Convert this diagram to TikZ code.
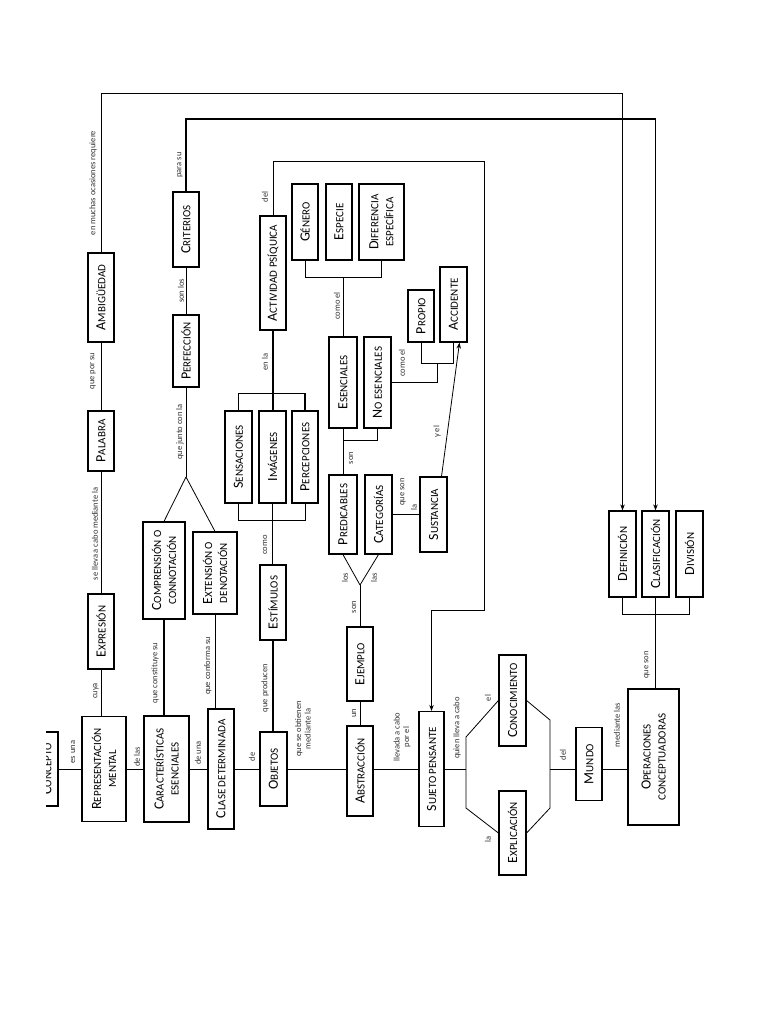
\documentclass[tikz,border=0pt]{standalone}
\usepackage{fontspec}
\setmainfont{Carlito}
\usetikzlibrary{arrows.meta,calc}
\newcommand\kk[2]{{\fontsize{14}{15}\selectfont #1}{\fontsize{11}{13}\selectfont #2}}
\newcommand\ks[1]{{\fontsize{11}{13}\selectfont #1}}
\tikzset{
  box/.style={draw, line width=1.2pt, rotate=90, inner sep=0pt, align=center, font=\fontsize{11}{15}\selectfont},
  lbl/.style={rotate=90, font=\fontsize{8.5}{9.5}\selectfont, text=black!80, inner sep=0pt, align=center},
  ln/.style={line width=0.8pt},
  thk/.style={line width=1.5pt},
  arr/.style={-{Stealth[length=6pt,width=4.5pt]}},
}
\begin{document}
\begin{tikzpicture}[x=1pt,y=-1pt]
\fill[white] (0,0) rectangle (768,1024);
\useasboundingbox (0,0) rectangle (768,1024);

\begin{scope}
\clip (46,0) rectangle (768,1024);
\node[box,minimum width=74pt,minimum height=22pt] (con) at (47,769) {\kk{C}{ONCEPTO}};
\end{scope}

% main row
\node[box,minimum width=105pt,minimum height=44pt] (rep) at (104,769) {\kk{R}{EPRESENTACIÓN}\\\ks{MENTAL}};
\node[box,minimum width=106pt,minimum height=45pt] (car) at (166.5,769) {\kk{C}{ARACTERÍSTICAS}\\\ks{ESENCIALES}};
\node[box,minimum width=120pt,minimum height=26pt] (cla) at (221,769) {\kk{C}{LASE DETERMINADA}};
\node[box,minimum width=74pt,minimum height=27pt] (obj) at (273.5,769) {\kk{O}{BJETOS}};
\node[box,minimum width=90pt,minimum height=26pt] (abs) at (360,771) {\kk{A}{BSTRACCIÓN}};
\node[box,minimum width=74pt,minimum height=26pt] (eje) at (360,664) {\kk{E}{JEMPLO}};
\node[box,minimum width=115pt,minimum height=25pt] (suj) at (431.5,769) {\kk{S}{UJETO PENSANTE}};
\node[box,minimum width=91pt,minimum height=27pt] (cono) at (512.5,700.5) {\kk{C}{ONOCIMIENTO}};
\node[box,minimum width=84pt,minimum height=27pt] (expl) at (512.5,833) {\kk{E}{XPLICACIÓN}};
\node[box,minimum width=73pt,minimum height=26pt] (mun) at (589,764) {\kk{M}{UNDO}};
\node[box,minimum width=136pt,minimum height=51pt] (ope) at (653.5,757) {\kk{O}{PERACIONES}\\\ks{CONCEPTUADORAS}};
\node[box,minimum width=86pt,minimum height=27pt] (def) at (622.5,554) {\kk{D}{EFINICIÓN}};
\node[box,minimum width=86pt,minimum height=27pt] (clas) at (655.5,554) {\kk{C}{LASIFICACIÓN}};
\node[box,minimum width=86pt,minimum height=27pt] (div) at (689.5,554) {\kk{D}{IVISIÓN}};

% left column
\node[box,minimum width=89pt,minimum height=26pt] (amb) at (101,297.5) {\kk{A}{MBIGÜEDAD}};
\node[box,minimum width=60pt,minimum height=26pt] (pal) at (101,441) {\kk{P}{ALABRA}};
\node[box,minimum width=75pt,minimum height=26pt] (expr) at (101,631.5) {\kk{E}{XPRESIÓN}};
\node[box,minimum width=75pt,minimum height=26pt] (cri) at (186,229.5) {\kk{C}{RITERIOS}};
\node[box,minimum width=72pt,minimum height=26pt] (per) at (186,351) {\kk{P}{ERFECCIÓN}};
\node[box,minimum width=97pt,minimum height=42pt] (comp) at (164,570.5) {\kk{C}{OMPRENSIÓN O}\\\ks{CONNOTACIÓN}};
\node[box,minimum width=82pt,minimum height=44pt] (ext) at (215,573) {\kk{E}{XTENSIÓN O}\\\ks{DENOTACIÓN}};

% middle
\node[box,minimum width=114pt,minimum height=26pt] (act) at (273,273) {\kk{A}{CTIVIDAD PSÍQUICA}};
\node[box,minimum width=76pt,minimum height=26pt] (gen) at (305,222) {\kk{G}{ÉNERO}};
\node[box,minimum width=76pt,minimum height=26pt] (esp) at (339,222) {\kk{E}{SPECIE}};
\node[box,minimum width=76pt,minimum height=45pt] (dif) at (381.5,222) {\kk{D}{IFERENCIA}\\\ks{ESPECÍFICA}};
\node[box,minimum width=91pt,minimum height=28pt] (esen) at (343,382.5) {\kk{E}{SENCIALES}};
\node[box,minimum width=91pt,minimum height=27pt] (noes) at (377.5,382.5) {\kk{N}{O ESENCIALES}};
\node[box,minimum width=52pt,minimum height=26pt] (prop) at (421,316) {\kk{P}{ROPIO}};
\node[box,minimum width=75pt,minimum height=27pt] (acc) at (453.5,304.5) {\kk{A}{CCIDENTE}};
\node[box,minimum width=92pt,minimum height=27pt] (sen) at (238.5,457) {\kk{S}{ENSACIONES}};
\node[box,minimum width=92pt,minimum height=27pt] (ima) at (272.5,457) {\kk{I}{MÁGENES}};
\node[box,minimum width=92pt,minimum height=26pt] (perc) at (305,457) {\kk{P}{ERCEPCIONES}};
\node[box,minimum width=75pt,minimum height=26pt] (est) at (273,602.5) {\kk{E}{STÍMULOS}};
\node[box,minimum width=79pt,minimum height=28pt] (pred) at (343,514.5) {\kk{P}{REDICABLES}};
\node[box,minimum width=79pt,minimum height=27pt] (cat) at (378.5,514.5) {\kk{C}{ATEGORÍAS}};
\node[box,minimum width=75pt,minimum height=27pt] (sus) at (433.5,514.5) {\kk{S}{USTANCIA}};

% junctions
\coordinate (j1) at (466,769);
\coordinate (j2) at (550,769);
\coordinate (sj) at (186,477);
\coordinate (yj) at (360,585);

% main row connectors
\draw[ln] (con.south |- 0,769) -- (rep.north |- 0,769);
\draw[ln] (rep.south |- 0,769) -- (car.north |- 0,769);
\draw[ln] (car.south |- 0,769) -- (cla.north |- 0,769);
\draw[ln] (cla.south |- 0,769) -- (obj.north |- 0,769);
\draw[ln] (obj.south |- 0,769) -- (abs.north |- 0,769);
\draw[ln] (abs.south |- 0,769) -- (suj.north |- 0,769);
\draw[ln] (suj.south |- 0,769) -- (j1);
\draw[ln] (cono.north) -- (466,737) -- (466,808) -- (expl.north);
\draw[ln] (cono.south) -- (550,720) -- (550,808) -- (expl.south);
\draw[ln] (j2) -- (j2 -| mun.north);
\draw[ln] (mun.south |- j2) -- (ope.north |- j2);
\draw[ln] (ope.east -| clas) -- (clas.west);
\draw[ln] (def.west) -- ++(0,17) -| (div.west);
\draw[ln] (abs.east) -- (eje.west);

% long top lines
\draw[ln,arr] (amb.east) -- (amb.east |- 0,93) -| (def.east);
\draw[thk,arr] (cri.east) -- (cri.east |- 0,119) -| (clas.east);
\draw[ln,arr] (act.east) -- (act.east |- 0,161) -- (484,161) -- (484,610) -- (suj.east |- 0,610) -- (suj.east);

% left column connectors
\draw[ln] (amb.west) -- (pal.east);
\draw[ln] (pal.west) -- (expr.east);
\draw[ln] (expr.west) -- (expr.west |- rep.east);
\draw[ln] (cri.west) -- (per.east);
\draw[ln] (per.west) -- (sj);
\draw[ln] (sj) -- (comp.east);
\draw[ln] (sj) -- (ext.east);
\draw[thk] (comp.west) -- (comp.west |- car.east);
\draw[ln] (ext.west) -- (ext.west |- cla.east);

% middle connectors
\draw[thk] (act.west) -- (act.west |- ima.east);
\draw[thk] (sen.east) -- ++(0,-17) -| (perc.east);
\draw[ln] (sen.west) -- ++(0,17) -| (perc.west);
\draw[thk] (ima.west) -- (ima.west |- est.east);
\draw[thk] (est.west) -- (est.west |- obj.east);
\draw[ln] (gen.west) -- ++(0,17) -| (dif.west);
\draw[ln] (esen.east) -- (esen.east |- 0,277);
\draw[ln] (pred.east) -- (esen.west);
\draw[ln] (esen.west) -- ++(0,12) -| (noes.west);
\draw[ln] (prop.west) -- ++(0,21) -| (acc.west);
\draw[ln] (437,363) |- (noes.south);
\draw[ln] (cat.south) -- (sus.north);
\draw[ln,arr] ($(sus.east)+(8,0)$) -- ($(acc.west)+(6,0)$);
\draw[ln] (eje.east) -- (yj);
\draw[ln] (yj) -- (pred.west);
\draw[ln] (yj) -- (cat.west);

% labels
\node[lbl] (l1) at (73,752) {es una};
\node[lbl] (l2) at (137,757) {de las};
\node[lbl] (l3) at (198,753) {de una};
\node[lbl] (l4) at (252,757) {de};
\node[lbl] (l5) at (303,729) {que se obtienen\\mediante la};
\node[lbl] (l6) at (354,713) {un};
\node[lbl] (l7) at (402,737) {llevada a cabo\\por el};
\node[lbl] (l8) at (457,728) {quien lleva a cabo};
\node[lbl] (l9) at (488,698) {el};
\node[lbl] (l10) at (488,839) {la};
\node[lbl] (l11) at (563,755) {del};
\node[lbl] (l12) at (617,725) {mediante las};
\node[lbl] (l13) at (647,665) {que son};
\node[lbl] (l14) at (96,691) {cuya};
\node[lbl] (l15) at (95,534) {se lleva a cabo mediante la};
\node[lbl] (l16) at (93,371) {que por su};
\node[lbl] (l17) at (93,183) {en muchas ocasiones requiere};
\node[lbl] (l18) at (180,165) {para su};
\node[lbl] (l19) at (181,291) {son los};
\node[lbl] (l20) at (180,432) {que junto con la};
\node[lbl] (l21) at (155,673) {que constituye su};
\node[lbl] (l22) at (208,666) {que conforma su};
\node[lbl] (l23) at (265,197) {del};
\node[lbl] (l24) at (265,362) {en la};
\node[lbl] (l25) at (265,545) {como};
\node[lbl] (l26) at (265,688) {que producen};
\node[lbl] (l27) at (337,306) {como el};
\node[lbl] (l28) at (402,363) {como el};
\node[lbl] (l29) at (351,458) {son};
\node[lbl] (l30) at (345,578) {los};
\node[lbl] (l31) at (374,578) {las};
\node[lbl] (l32) at (354,607) {son};
\node[lbl] (l33) at (437,432) {y el};
\node[lbl] (l34) at (403,492) {que son};
\node[lbl] (l35) at (414,507) {la};
\end{tikzpicture}
\end{document}
